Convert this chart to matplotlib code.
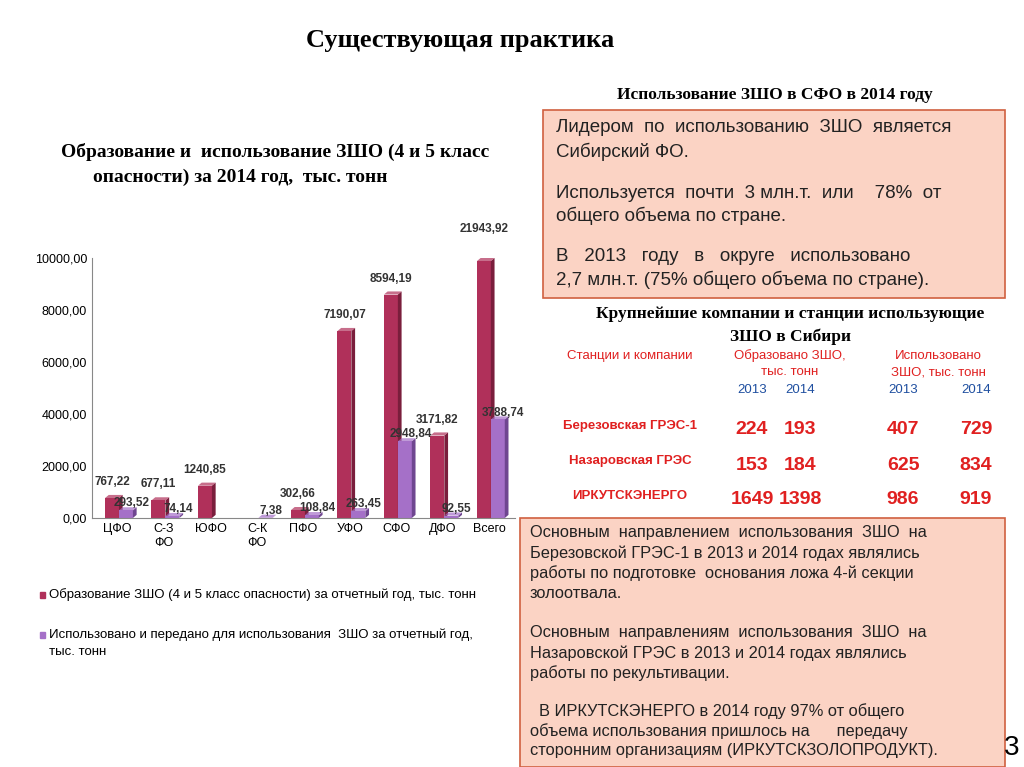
import matplotlib
matplotlib.use("Agg")
import matplotlib.pyplot as plt
from matplotlib.patches import Rectangle, Polygon
import numpy as np

plt.rcParams["font.family"] = "Liberation Sans"

categories = ["ЦФО", "С-З\nФО", "ЮФО", "С-К\nФО", "ПФО", "УФО", "СФО", "ДФО", "Всего"]
formed = [767.22, 677.11, 1240.85, 0, 302.66, 7190.07, 8594.19, 3171.82, 21943.92]
used = [293.52, 74.14, 0, 7.38, 108.84, 263.45, 2948.84, 92.55, 3788.74]
formed_lbl = ["767,22", "677,11", "1240,85", "", "302,66", "7190,07", "8594,19", "3171,82", "21943,92"]
used_lbl = ["293,52", "74,14", "", "7,38", "108,84", "263,45", "2948,84", "92,55", "3788,74"]
yticks = [0, 2000, 4000, 6000, 8000, 10000]
ytick_lbl = ["0,00", "2000,00", "4000,00", "6000,00", "8000,00", "10000,00"]

W, H = 1024, 767
fig = plt.figure(figsize=(10.24, 7.67), dpi=100)
fig.patch.set_facecolor("white")

def fx(x): return x / W
def fy(y): return 1 - y / H

ax = fig.add_axes([fx(92), fy(518), fx(515) - fx(92), fy(258) - fy(518)])
ymax = 10000
x = np.arange(len(categories))
bw = 0.3
c1, c1s = "#b0305a", "#7a1e3c"
c2, c2s = "#a570c8", "#6f4690"
dx, dy = 0.08, 120
for i in range(len(x)):
    for off, v, c, cs in [(-0.12, formed[i], c1, c1s), (0.18, used[i], c2, c2s)]:
        h = min(v, ymax - dy)
        if v <= 0:
            continue
        x0 = x[i] + off - bw / 2
        ax.add_patch(Rectangle((x0, 0), bw, h, facecolor=c, edgecolor="none"))
        ax.add_patch(Polygon([(x0 + bw, 0), (x0 + bw + dx, dy), (x0 + bw + dx, h + dy), (x0 + bw, h)], facecolor=cs, edgecolor="none"))
        ax.add_patch(Polygon([(x0, h), (x0 + dx, h + dy), (x0 + bw + dx, h + dy), (x0 + bw, h)], facecolor=c, edgecolor="none", alpha=0.7))
ax.set_xlim(-0.55, len(x) - 0.45)
ax.set_ylim(0, ymax)
ax.set_yticks(yticks)
ax.set_yticklabels(ytick_lbl, fontsize=9)
ax.set_xticks(x)
ax.set_xticklabels(categories, fontsize=9)
for s in ["top", "right"]:
    ax.spines[s].set_visible(False)
ax.spines["left"].set_color("#888888")
ax.spines["bottom"].set_color("#888888")
ax.tick_params(length=0)
for i in range(len(x)):
    if formed_lbl[i]:
        yv = min(formed[i], ymax)
        ax.text(x[i] - 0.12, yv + 500 if formed[i] < ymax else ymax + 1000, formed_lbl[i], ha="center", fontsize=8.5, fontweight="bold", color="#333333", clip_on=False)
    if used_lbl[i]:
        ax.text(x[i] + 0.3, used[i] + 150, used_lbl[i], ha="center", fontsize=8.5, fontweight="bold", color="#333333", clip_on=False)

fig.add_artist(Rectangle((fx(40), fy(598)), 5 / W, 6 / H, transform=fig.transFigure, color=c1))
fig.text(fx(49), fy(595), "Образование ЗШО (4 и 5 класс опасности) за отчетный год, тыс. тонн", fontsize=9.5, va="center")
fig.add_artist(Rectangle((fx(40), fy(638)), 5 / W, 6 / H, transform=fig.transFigure, color=c2))
fig.text(fx(49), fy(635), "Использовано и передано для использования  ЗШО за отчетный год,", fontsize=9.5, va="center")
fig.text(fx(49), fy(652), "тыс. тонн", fontsize=9.5, va="center")

ser = "Liberation Serif"
fig.text(fx(460), fy(40), "Существующая практика", fontsize=19, fontweight="bold", family=ser, ha="center", va="center")
fig.text(fx(275), fy(152), "Образование и  использование ЗШО (4 и 5 класс", fontsize=14, fontweight="bold", family=ser, ha="center", va="center")
fig.text(fx(240), fy(177), "опасности) за 2014 год,  тыс. тонн", fontsize=14, fontweight="bold", family=ser, ha="center", va="center")
fig.text(fx(775), fy(95), "Использование ЗШО в СФО в 2014 году", fontsize=12.5, fontweight="bold", family=ser, ha="center", va="center")

box = "#fbd3c4"
fig.add_artist(Rectangle((fx(543), fy(298)), (1005 - 543) / W, (298 - 110) / H, transform=fig.transFigure, facecolor=box, edgecolor="#d06040", lw=1.2))
t1 = [("Лидером  по  использованию  ЗШО  является", 128), ("Сибирский ФО.", 152), ("Используется  почти  3 млн.т.  или    78%  от", 193), ("общего объема по стране.", 216), ("В   2013   году   в   округе   использовано", 257), ("2,7 млн.т. (75% общего объема по стране).", 280)]
for s, y in t1:
    fig.text(fx(556), fy(y), s, fontsize=13.5, color="#222222", va="center")

fig.text(fx(790), fy(314), "Крупнейшие компании и станции использующие", fontsize=12.5, fontweight="bold", family=ser, ha="center", va="center")
fig.text(fx(790), fy(337), "ЗШО в Сибири", fontsize=12.5, fontweight="bold", family=ser, ha="center", va="center")
red, blue = "#e02020", "#1f4fa0"
fig.text(fx(630), fy(356), "Станции и компании", fontsize=9.5, color=red, ha="center", va="center")
fig.text(fx(790), fy(356), "Образовано ЗШО,", fontsize=9.5, color=red, ha="center", va="center")
fig.text(fx(790), fy(372), "тыс. тонн", fontsize=9.5, color=red, ha="center", va="center")
fig.text(fx(938), fy(356), "Использовано", fontsize=9.5, color=red, ha="center", va="center")
fig.text(fx(938), fy(372), "ЗШО, тыс. тонн", fontsize=9.5, color=red, ha="center", va="center")
years = ["2013", "2014", "2013", "2014"]
cols = [752, 800, 903, 976]
for c, yr in zip(cols, years):
    fig.text(fx(c), fy(390), yr, fontsize=9.5, color=blue, ha="center", va="center")
stations = ["Березовская ГРЭС-1", "Назаровская ГРЭС", "ИРКУТСКЭНЕРГО"]
vals = [[224, 193, 407, 729], [153, 184, 625, 834], [1649, 1398, 986, 919]]
rows_y = [430, 465, 500]
for st, vs, y in zip(stations, vals, rows_y):
    fig.text(fx(630), fy(y - 4), st, fontsize=9.5, color=red, fontweight="bold", ha="center", va="center")
    for c, v in zip(cols, vs):
        fig.text(fx(c), fy(y), str(v), fontsize=14, color=red, fontweight="bold", ha="center", va="center")

fig.add_artist(Rectangle((fx(520), fy(767)), (1005 - 520) / W, (767 - 518) / H, transform=fig.transFigure, facecolor=box, edgecolor="#d06040", lw=1.2))
t2 = [("Основным  направлением  использования  ЗШО  на", 533), ("Березовской ГРЭС-1 в 2013 и 2014 годах являлись", 553), ("работы по подготовке  основания ложа 4-й секции", 573), ("золоотвала.", 593),
      ("Основным  направлениям  использования  ЗШО  на", 633), ("Назаровской ГРЭС в 2013 и 2014 годах являлись", 653), ("работы по рекультивации.", 673),
      ("  В ИРКУТСКЭНЕРГО в 2014 году 97% от общего", 711), ("объема использования пришлось на      передачу", 731), ("сторонним организациям (ИРКУТСКЗОЛОПРОДУКТ).", 751)]
for s, y in t2:
    fig.text(fx(530), fy(y), s, fontsize=11.8, color="#222222", va="center")
fig.text(fx(1012), fy(748), "3", fontsize=20, ha="center", va="center")

fig.savefig("out.png", dpi=100)
